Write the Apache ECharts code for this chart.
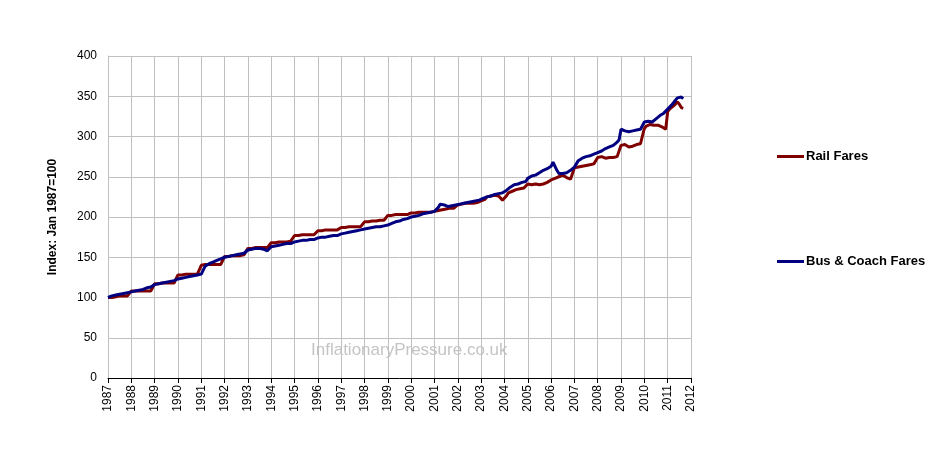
<!DOCTYPE html>
<html>
<head>
<meta charset="utf-8">
<script src="https://cdn.jsdelivr.net/npm/echarts@6/dist/echarts.min.js"></script>
<style>
html,body{margin:0;padding:0;background:#fff;}
#chart{width:944px;height:475px;}
</style>
</head>
<body>
<div id="chart"></div>
<script>
// Monthly index values, Jan 1987 = 100 (Jan 1987 .. Sep 2011)
var startYear = 1987;
var seriesNames = ["Rail Fares", "Bus & Coach Fares"];
var yearTicks = [1987,1988,1989,1990,1991,1992,1993,1994,1995,1996,1997,1998,1999,2000,2001,2002,2003,2004,2005,2006,2007,2008,2009,2010,2011,2012];

var railFares = [
  100,100,100,100,101,101,102,102,102,102,102,102,
  108,108,108,108,108,108,108,108,108,108,108,108,
  117,117,117,118,118,118,118,118,118,118,118,118,
  128,128,128,129,129,129,129,129,129,129,129,129,
  140,140,141,141,141,141,141,141,141,141,141,141,
  151,151,151,151,152,152,152,152,152,152,153,153,
  161,161,161,162,162,162,162,162,162,162,162,162,
  168,168,168,169,169,169,169,169,169,170,170,170,
  177,177,177,178,178,178,178,178,178,178,178,178,
  183,183,183,184,184,184,184,184,184,184,184,184,
  187,187,187,188,188,188,188,188,188,188,188,188,
  194,194,194,195,195,195,195,195,196,196,196,196,
  202,202,202,203,203,203,203,203,203,203,203,203,
  205,205,205,206,206,206,206,206,206,206,206,206,
  207,207,208,209,209,210,210,210,211,211,211,211,
  215,216,216,216,217,217,217,217,217,218,218,218,
  220,221,222,225,226,226,227,227,227,226,224,221,
  222,226,230,231,232,233,234,234,235,235,236,236,
  241,241,240,240,241,240,240,241,241,242,243,245,
  246,247,248,249,250,251,252,252,249,247,247,248,
  261,262,262,263,263,264,264,265,265,266,266,266,
  274,275,275,274,273,273,274,274,274,275,275,276,
  289,289,290,288,287,287,288,289,290,290,291,291,
  310,313,315,315,314,314,315,314,313,312,310,309,
  331,334,336,338,339,343,340,336,335
];

var busFares = [
  100,101,102,103,103,104,104,105,105,106,106,106,
  107,107,108,108,109,110,110,111,112,113,113,114,
  116,117,117,118,118,119,119,120,120,121,121,122,
  123,123,124,124,125,125,126,126,127,127,128,128,
  129,134,139,141,142,143,144,145,146,147,148,149,
  150,151,151,152,152,153,153,154,154,154,155,155,
  159,159,160,160,161,161,161,161,160,159,158,160,
  163,164,164,165,165,166,166,166,167,167,167,168,
  169,170,170,170,171,171,171,172,172,172,172,173,
  174,174,175,175,175,176,176,176,177,177,177,178,
  179,179,180,180,181,181,182,182,183,183,184,183,
  185,186,186,187,187,187,188,188,188,189,189,189,
  190,191,192,193,194,195,195,196,197,197,198,198,
  200,200,201,202,202,203,204,204,205,205,206,206,
  207,209,212,216,217,215,213,213,213,214,214,215,
  215,216,216,217,218,218,219,219,220,220,221,221,
  222,223,224,225,226,226,227,228,228,229,230,230,
  231,233,235,237,239,240,240,241,242,243,244,244,
  248,250,251,252,252,253,255,256,258,259,260,261,
  263,268,269,258,254,254,254,254,255,256,258,260,
  262,266,270,272,273,274,275,275,276,277,278,279,
  280,281,282,283,285,286,287,288,289,291,293,296,
  309,310,307,305,306,307,307,308,308,308,309,310,
  318,320,319,318,318,320,322,324,326,328,329,331,
  334,336,339,342,345,348,349,349,347
];

function toPoints(arr) {
  return arr.map(function (v, i) { return [startYear + i / 12, v]; });
}

var chart = echarts.init(document.getElementById('chart'), null, {renderer: 'canvas'});
var font = 'Arial, "Liberation Sans", sans-serif';

function legendAt(top, name) {
  return {
    orient: 'vertical',
    left: 777,
    top: top,
    padding: 0,
    data: [name],
    icon: 'rect',
    itemWidth: 27,
    itemHeight: 3,
    itemGap: 0,
    textStyle: {fontFamily: font, fontSize: 13, fontWeight: 'bold', color: '#000', padding: [0, 0, 0, -3]},
    selectedMode: false
  };
}

chart.setOption({
  animation: false,
  backgroundColor: '#ffffff',
  textStyle: {fontFamily: font},
  grid: {left: 108, top: 56, width: 583, height: 322, containLabel: false},
  graphic: [{
    type: 'text',
    left: 311,
    top: 342,
    z: 0,
    silent: true,
    style: {
      text: 'InflationaryPressure.co.uk',
      font: '17px ' + font,
      fill: '#c4c4c4'
    }
  }],
  legend: [legendAt(150, seriesNames[0]), legendAt(255, seriesNames[1])],
  xAxis: {
    type: 'value',
    min: 1987,
    max: 2012,
    interval: 1,
    axisLine: {show: true, onZero: false, lineStyle: {color: '#000', width: 1}},
    axisTick: {show: true, length: 5, lineStyle: {color: '#000'}},
    axisLabel: {
      rotate: 90,
      margin: 7,
      fontSize: 12,
      color: '#000',
      fontFamily: font,
      formatter: function (v) {
        var y = Math.round(v);
        return yearTicks.indexOf(y) >= 0 ? String(y) : '';
      }
    },
    splitLine: {show: true, lineStyle: {color: '#c0c0c0', width: 1}}
  },
  yAxis: {
    type: 'value',
    min: 0,
    max: 400,
    interval: 50,
    name: 'Index: Jan 1987=100',
    nameLocation: 'middle',
    nameGap: 49,
    nameTextStyle: {fontFamily: font, fontSize: 12, fontWeight: 'bold', color: '#000'},
    axisLine: {show: true, lineStyle: {color: '#c0c0c0', width: 1}},
    axisTick: {show: false},
    axisLabel: {margin: 11, fontSize: 12, color: '#000', fontFamily: font},
    splitLine: {show: true, lineStyle: {color: '#c0c0c0', width: 1}}
  },
  series: [{
    name: seriesNames[0],
    type: 'line',
    data: toPoints(railFares),
    symbol: 'none',
    color: '#800000',
    lineStyle: {color: '#800000', width: 3},
    z: 3
  }, {
    name: seriesNames[1],
    type: 'line',
    data: toPoints(busFares),
    symbol: 'none',
    color: '#000080',
    lineStyle: {color: '#000080', width: 3},
    z: 4
  }]
});
</script>
</body>
</html>
